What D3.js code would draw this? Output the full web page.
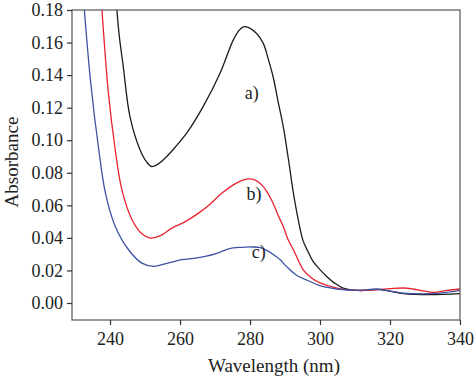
<!DOCTYPE html>
<html><head><meta charset="utf-8">
<script src="https://cdn.jsdelivr.net/npm/d3@7"></script>
<style>body{margin:0;background:#fff}svg{display:block}
text{font-family:"Liberation Serif","Times New Roman",serif !important}</style>
</head><body>
<svg id="c" width="474" height="379"></svg>
<script>
const wavelengthA = [241.6,242.6,243.8,245.7,248.6,250.5,251.9,253.5,255.5,257.1,261.9,266.6,271.4,275.2,277.0,278.1,279.5,281.9,283.8,285.2,286.6,288.0,289.5,291.0,292.4,293.8,295.2,296.6,298.0,300.0,301.9,304.0,306.6,311.0,317.1,323.8,331.4,340.0];
const absorbA     = [0.19,0.165,0.145,0.1145,0.094,0.0865,0.0838,0.0850,0.0885,0.092,0.1043,0.1206,0.141,0.1615,0.1678,0.1697,0.1693,0.1656,0.1595,0.150,0.139,0.124,0.1083,0.088,0.0675,0.051,0.038,0.0315,0.0255,0.0205,0.0163,0.0125,0.0092,0.0077,0.0082,0.0057,0.0051,0.0057];
const wavelengthB = [237.4,239.5,241.5,243.4,246.3,249.1,251.5,254.5,257.7,261.5,265.3,268.5,272.0,276.0,279.0,281.5,283.8,285.2,286.6,288.0,289.5,290.9,292.4,295.2,297.5,300.0,304.8,311.0,316.2,320.0,323.8,326.6,329.5,332.4,336.2,340.0];
const absorbB     = [0.19,0.13,0.094,0.0695,0.0511,0.0425,0.0399,0.0415,0.046,0.050,0.0552,0.0605,0.0675,0.0735,0.0761,0.0755,0.0715,0.067,0.0613,0.054,0.047,0.0388,0.0327,0.0204,0.0155,0.0123,0.0092,0.0077,0.0082,0.0088,0.0092,0.0086,0.0075,0.0065,0.0077,0.0086];
const wavelengthC = [232.3,234.5,236.8,238.7,241.5,245.3,249.1,252.5,256.5,260.6,264.0,267.2,270.5,273.9,277.5,280.6,283.0,285.3,287.0,288.6,290.4,293.3,296.5,300.0,304.8,311.0,316.2,319.0,323.8,331.4,336.2,340.0];
const absorbC     = [0.19,0.135,0.094,0.0675,0.047,0.0327,0.0245,0.0225,0.0245,0.0266,0.0274,0.0286,0.0305,0.0333,0.0342,0.0344,0.0340,0.0317,0.0292,0.0266,0.0225,0.0170,0.0138,0.0106,0.0086,0.0077,0.0086,0.0077,0.0061,0.0057,0.0065,0.0077];
const labelsSeries = ["a)","b)","c)"];
const labelAnchorX = [278.5, 279, 280.5];
const labelAnchorY = [0.1255, 0.0635, 0.0275];
const xTicks = [240,260,280,300,320,340];
const yTicks = [0.00,0.02,0.04,0.06,0.08,0.10,0.12,0.14,0.16,0.18];
const colors = ["#1c1c1c","#e8232f","#3d52a3"];

const svg = d3.select("#c");
const L=72, R=460, T=10, B=320;
const x = d3.scaleLinear().domain([229.14,340]).range([L,R]);
const y = d3.scaleLinear().domain([-0.01045,0.18]).range([B,T]);
const font = "Liberation Serif, Times New Roman, serif";

svg.append("clipPath").attr("id","clip").append("rect")
  .attr("x",L).attr("y",T).attr("width",R-L).attr("height",B-T);

const series = [[wavelengthA,absorbA],[wavelengthB,absorbB],[wavelengthC,absorbC]];
const line = d3.line().x(d=>x(d[0])).y(d=>y(d[1])).curve(d3.curveCatmullRom.alpha(0.5));
series.forEach((s,i)=>{
  const pts = s[0].map((w,k)=>[w,s[1][k]]);
  svg.append("path").attr("d",line(pts)).attr("fill","none")
    .attr("stroke",colors[i]).attr("stroke-width",1.3).attr("clip-path","url(#clip)");
});

// frame
svg.append("rect").attr("x",L).attr("y",T).attr("width",R-L).attr("height",B-T)
  .attr("fill","none").attr("stroke","#555").attr("stroke-width",1.2);

// x axis
const xMinor = d3.range(230,341,10);
const gx = svg.append("g").attr("transform",`translate(0,${B})`);
gx.call(d3.axisBottom(x).tickValues(xMinor).tickSize(4).tickFormat(""));
gx.call(d3.axisBottom(x).tickValues(xTicks).tickSize(5).tickFormat(d3.format("d")));
gx.attr("font-family",font);
gx.selectAll(".domain").remove();
gx.selectAll("line").attr("stroke","#333").attr("stroke-width",1.2);
gx.selectAll("text").style("font-family",font).attr("font-size",18).attr("fill","#222").attr("dy","0.95em");

// y axis
const yMinor = d3.range(-0.01,0.181,0.01);
const gy = svg.append("g").attr("transform",`translate(${L},0)`);
gy.call(d3.axisLeft(y).tickValues(yMinor).tickSize(4).tickFormat(""));
gy.call(d3.axisLeft(y).tickValues(yTicks).tickSize(5).tickFormat(d3.format(".2f")));
gy.attr("font-family",font);
gy.selectAll(".domain").remove();
gy.selectAll("line").attr("stroke","#333").attr("stroke-width",1.2);
gy.selectAll("text").style("font-family",font).attr("font-size",18).attr("fill","#222").attr("x",-9);

// series labels
labelsSeries.forEach((t,i)=>{
  svg.append("text").attr("x",x(labelAnchorX[i])).attr("y",y(labelAnchorY[i]))
    .style("font-family",font).attr("font-size",18).attr("fill","#222").text(t);
});

// axis titles
svg.append("text").attr("x",(L+R)/2+8).attr("y",372).attr("text-anchor","middle")
  .style("font-family",font).attr("font-size",19).attr("fill","#222").text("Wavelength (nm)");
svg.append("text").attr("transform","translate(18,162) rotate(-90)").attr("text-anchor","middle")
  .style("font-family",font).attr("font-size",19).attr("fill","#222").text("Absorbance");
</script>
</body></html>
